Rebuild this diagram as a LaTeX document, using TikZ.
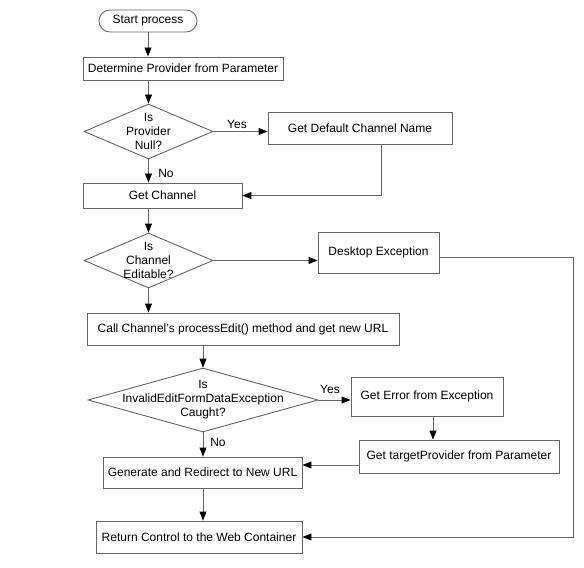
\documentclass[tikz,border=0pt]{standalone}
\usepackage{fontspec}
\setmainfont{Liberation Sans}
\usetikzlibrary{shapes.geometric,arrows.meta}

\tikzset{
    step box/.style={draw=black!60, line width=0.9bp, rectangle, inner sep=0pt},
    decision/.style={draw=black!60, line width=0.9bp, diamond, inner sep=0pt},
    flow/.style={draw=black!60, line width=0.9bp, -{Triangle[length=9bp,width=7bp,color=black]}},
    link/.style={draw=black!60, line width=0.9bp},
    answer/.style={inner sep=0pt},
}

\begin{document}
\begin{tikzpicture}[x=1bp, y=-1bp, font=\fontsize{12bp}{14bp}\selectfont]

    \useasboundingbox (0,0) rectangle (584,568);

    % Boxes and decisions
    \node[step box, rounded corners=10.9bp, minimum width=98bp, minimum height=22bp] (start) at (148,21) {Start process};
    \node[step box, minimum width=200bp, minimum height=23bp] (provider) at (183,68.5) {Determine Provider from Parameter};
    \node[decision, minimum width=129bp, minimum height=55bp,
        label={[name=isnulltext, align=center]center:{Is\\Provider\\Null?}}] (isnull) at (148.5,131.5) {};
    \node[step box, minimum width=184bp, minimum height=32bp] (defname) at (360,128) {Get Default Channel Name};
    \node[step box, minimum width=159bp, minimum height=25bp] (getchan) at (162.5,195.5) {Get Channel};
    \node[decision, minimum width=129bp, minimum height=55bp,
        label={[name=editabletext, align=center]center:{Is\\Channel\\Editable?}}] (editable) at (148.5,260.5) {};
    \node[step box, minimum width=121bp, minimum height=41bp] (desktop) at (378.5,252.5) {Desktop Exception};
    \node[step box, minimum width=312bp, minimum height=32bp] (calledit) at (243,329) {Call Channel's processEdit() method and get new URL};
    \node[decision, minimum width=230bp, minimum height=64bp,
        label={[name=caughttext, align=center]center:{Is\\InvalidEditFormDataException\\Caught?}}] (caught) at (203,400) {};
    \node[step box, minimum width=152bp, minimum height=39bp] (geterror) at (427,396.5) {Get Error from Exception};
    \node[step box, minimum width=200bp, minimum height=33bp] (target) at (459,456.5) {Get targetProvider from Parameter};
    \node[step box, minimum width=199bp, minimum height=31bp] (generate) at (202.5,472.5) {Generate and Redirect to New URL};
    \node[step box, minimum width=206bp, minimum height=32bp] (return) at (199,537) {Return Control to the Web Container};

    % Answers
    \node[answer] (yes1) at (237,124) {Yes};
    \node[answer] (no1) at (166,173) {No};
    \node[answer] (yes2) at (330,389) {Yes};
    \node[answer] (no2) at (218,442) {No};

    \coordinate (rail) at (573,0);

    % Connectors
    \draw[flow] (start.south) -- (start.south |- provider.north);
    \draw[flow] (isnull.north |- provider.south) -- (isnull.north);
    \draw[flow] (isnull.east) -- (isnull.east -| defname.west);
    \draw[flow] (isnull.south) -- (getchan.north -| isnull.south);
    \draw[flow] ([xshift=21bp]defname.south) |- (getchan.east);
    \draw[flow] (editable.north |- getchan.south) -- (editable.north);
    \draw[flow] (editable.east) -- (editable.east -| desktop.west);
    \draw[flow] (editable.south) -- (editable.south |- calledit.north);
    \draw[flow] (caught.north |- calledit.south) -- (caught.north);
    \draw[flow] (caught.east) -- (caught.east -| geterror.west);
    \draw[flow] ([xshift=6bp]geterror.south) -- ([xshift=6bp]geterror.south |- target.north);
    \draw[flow] ([yshift=-8.5bp]target.west) -- ([yshift=-8.5bp]target.west -| generate.east);
    \draw[flow] (caught.south) -- (caught.south |- generate.north);
    \draw[flow] (caught.south |- generate.south) -- (caught.south |- return.north);
    \draw[flow] ([yshift=-4.5bp]desktop.east) -- ([yshift=-4.5bp]desktop.east -| rail) -- (rail |- return.east) -- (return.east);

\end{tikzpicture}
\end{document}
